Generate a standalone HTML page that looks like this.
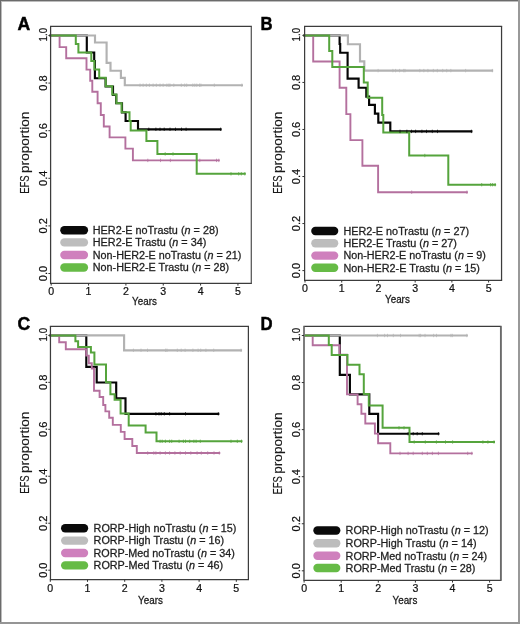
<!DOCTYPE html>
<html><head><meta charset="utf-8"><style>
html,body{margin:0;padding:0;background:#fff;-webkit-font-smoothing:antialiased;width:520px;height:624px;overflow:hidden;font-family:"Liberation Sans", sans-serif;}
</style></head><body>
<svg width="520" height="624" viewBox="0 0 520 624" style="position:absolute;left:0;top:0;will-change:transform;filter:blur(0.3px)"><rect x="0" y="0" width="520" height="624" fill="#fff"/><rect x="0" y="0" width="520" height="1" fill="#6b6b6b"/><rect x="0" y="1" width="518" height="1" fill="#bcbcbc"/><rect x="0" y="0" width="1" height="624" fill="#6b6b6b"/><rect x="1" y="1" width="1" height="621" fill="#bcbcbc"/><rect x="518" y="0" width="2" height="624" fill="#999"/><rect x="0" y="622" width="520" height="2" fill="#959595"/><g font-family='"Liberation Sans", sans-serif'><path d="M 50.5,35.5 H 86.8 V 52.5 H 94.2 V 61 H 94.9 V 78.2 H 105.6 V 86.5 H 113 V 94.8 H 116.2 V 103.2 H 122 V 112.3 H 125.6 V 121 H 138 V 129.3 H 220.6" fill="none" stroke="#050505" stroke-width="2.15" stroke-linejoin="miter" stroke-linecap="square"/><path d="M 50.5,35.5 H 95 V 42.5 H 106.6 V 62.8 H 110.5 V 70.7 H 120.9 V 77.8 H 124.8 V 85.2 H 241.9" fill="none" stroke="#b2b2b2" stroke-width="2.15" stroke-linejoin="miter" stroke-linecap="square"/><path d="M 50.5,35.5 H 59.6 V 47.1 H 66.2 V 58.3 H 86.5 V 69.6 H 90.2 V 80.8 H 92.3 V 91.7 H 97.6 V 103.3 H 100.8 V 115 H 103.8 V 126.5 H 109.6 V 137.4 H 125.4 V 148.6 H 132.9 V 160.4 H 218.8" fill="none" stroke="#b4709e" stroke-width="1.9" stroke-linejoin="miter" stroke-linecap="square"/><path d="M 50.5,35.5 H 75.8 V 44 H 78.4 V 52.4 H 91.3 V 61 H 94.4 V 69.5 H 99.2 V 77.7 H 105.7 V 86.2 H 112.2 V 94.6 H 116.4 V 103.2 H 121.6 V 112.2 H 129.5 V 121 H 130.7 V 130.6 H 146.4 V 141 H 157.4 V 153.9 H 196.7 V 173.8 H 244.8" fill="none" stroke="#55a43c" stroke-width="2.0" stroke-linejoin="miter" stroke-linecap="square"/><path d="M148.8,127.60v3.4M155.9,127.60v3.4M160,127.60v3.4M164.2,127.60v3.4M170,127.60v3.4M175.5,127.60v3.4M181.5,127.60v3.4M186.1,127.60v3.4M220.6,127.60v3.4" fill="none" stroke="#050505" stroke-width="0.9" stroke-opacity="0.8"/><path d="M140,83.50v3.4M143.1,83.50v3.4M146.3,83.50v3.4M149.4,83.50v3.4M153.1,83.50v3.4M156.3,83.50v3.4M160,83.50v3.4M163.1,83.50v3.4M166.9,83.50v3.4M168.8,83.50v3.4M170,83.50v3.4M173.8,83.50v3.4M181.3,83.50v3.4M184.7,83.50v3.4M186.7,83.50v3.4M192.8,83.50v3.4M194.8,83.50v3.4M196.8,83.50v3.4M199.5,83.50v3.4M200.9,83.50v3.4M214.3,83.50v3.4M241.9,83.50v3.4" fill="none" stroke="#b2b2b2" stroke-width="0.9" stroke-opacity="0.8"/><path d="M147.8,158.70v3.4M160.5,158.70v3.4M170.4,158.70v3.4M199.8,158.70v3.4M216.5,158.70v3.4M218.8,158.70v3.4" fill="none" stroke="#b4709e" stroke-width="0.9" stroke-opacity="0.8"/><path d="M165.2,152.20v3.4M173,152.20v3.4M231,172.10v3.4M238.7,172.10v3.4M241.3,172.10v3.4M244.8,172.10v3.4" fill="none" stroke="#55a43c" stroke-width="0.9" stroke-opacity="0.8"/><path d="M50.0,26.35H251.9M50.0,283.35H251.9" stroke="#3c3c3c" stroke-width="1.25" fill="none"/><path d="M50.6,26.35V283.35" stroke="#3c3c3c" stroke-width="1.25" fill="none"/><path d="M251.3,26.35V283.35" stroke="#555" stroke-width="1.25" fill="none"/><path d="M50.6,273.50h-2.2M50.6,225.90h-2.2M50.6,178.30h-2.2M50.6,130.70h-2.2M50.6,83.10h-2.2M50.6,35.50h-2.2M51.20,283.35v2.2M88.55,283.35v2.2M125.90,283.35v2.2M163.25,283.35v2.2M200.60,283.35v2.2M237.95,283.35v2.2" stroke="#333" stroke-width="1"/><text transform="translate(47.3,273.50) rotate(-90)" text-anchor="middle" font-size="11" fill="#111" stroke="#111" stroke-width="0.22">0.0</text><text transform="translate(47.3,225.90) rotate(-90)" text-anchor="middle" font-size="11" fill="#111" stroke="#111" stroke-width="0.22">0.2</text><text transform="translate(47.3,178.30) rotate(-90)" text-anchor="middle" font-size="11" fill="#111" stroke="#111" stroke-width="0.22">0.4</text><text transform="translate(47.3,130.70) rotate(-90)" text-anchor="middle" font-size="11" fill="#111" stroke="#111" stroke-width="0.22">0.6</text><text transform="translate(47.3,83.10) rotate(-90)" text-anchor="middle" font-size="11" fill="#111" stroke="#111" stroke-width="0.22">0.8</text><text transform="translate(47.3,34.70) rotate(-90)" text-anchor="middle" font-size="11" fill="#111" stroke="#111" stroke-width="0.22" textLength="13.6" lengthAdjust="spacingAndGlyphs">1.0</text><text x="51.20" y="295" text-anchor="middle" font-size="10.6" fill="#111" stroke="#111" stroke-width="0.22">0</text><text x="88.55" y="295" text-anchor="middle" font-size="10.6" fill="#111" stroke="#111" stroke-width="0.22">1</text><text x="125.90" y="295" text-anchor="middle" font-size="10.6" fill="#111" stroke="#111" stroke-width="0.22">2</text><text x="163.25" y="295" text-anchor="middle" font-size="10.6" fill="#111" stroke="#111" stroke-width="0.22">3</text><text x="200.60" y="295" text-anchor="middle" font-size="10.6" fill="#111" stroke="#111" stroke-width="0.22">4</text><text x="237.95" y="295" text-anchor="middle" font-size="10.6" fill="#111" stroke="#111" stroke-width="0.22">5</text><text transform="translate(29.2,193.72) rotate(-90)" font-size="12" fill="#1a1a1a" stroke="#1a1a1a" stroke-width="0.15" textLength="18.34" lengthAdjust="spacingAndGlyphs">EFS</text><text transform="translate(29.2,172.98) rotate(-90)" font-size="12" fill="#1a1a1a" stroke="#1a1a1a" stroke-width="0.15" textLength="61.37" lengthAdjust="spacingAndGlyphs">proportion</text><text x="132.1" y="304.8" font-size="11.8" fill="#1a1a1a" stroke="#1a1a1a" stroke-width="0.3" textLength="24.8" lengthAdjust="spacingAndGlyphs">Years</text><text transform="translate(17.40,30.2) scale(1.0,1)" font-size="17.6" font-weight="bold" fill="#000" stroke="#000" stroke-width="0.45">A</text><line x1="64.4" y1="230.2" x2="83.89999999999999" y2="230.2" stroke="#0a0a0a" stroke-width="8.4" stroke-linecap="round"/><text x="92.80" y="234.05" font-size="10.0" fill="#1e1e1e" stroke="#1e1e1e" stroke-width="0.26" textLength="125.75" lengthAdjust="spacingAndGlyphs">HER2-E noTrastu (<tspan font-style="italic">n</tspan> = 28)</text><line x1="64.4" y1="242.4" x2="83.89999999999999" y2="242.4" stroke="#bdbdbd" stroke-width="8.4" stroke-linecap="round"/><text x="92.80" y="246.25" font-size="10.0" fill="#1e1e1e" stroke="#1e1e1e" stroke-width="0.26" textLength="113.55" lengthAdjust="spacingAndGlyphs">HER2-E Trastu (<tspan font-style="italic">n</tspan> = 34)</text><line x1="64.4" y1="255.0" x2="83.89999999999999" y2="255.0" stroke="#cf80bd" stroke-width="8.4" stroke-linecap="round"/><text x="92.80" y="258.85" font-size="10.0" fill="#1e1e1e" stroke="#1e1e1e" stroke-width="0.26" textLength="148.55" lengthAdjust="spacingAndGlyphs">Non-HER2-E noTrastu (<tspan font-style="italic">n</tspan> = 21)</text><line x1="64.4" y1="267.5" x2="83.89999999999999" y2="267.5" stroke="#66bb46" stroke-width="8.4" stroke-linecap="round"/><text x="92.80" y="271.35" font-size="10.0" fill="#1e1e1e" stroke="#1e1e1e" stroke-width="0.26" textLength="136.35" lengthAdjust="spacingAndGlyphs">Non-HER2-E Trastu (<tspan font-style="italic">n</tspan> = 28)</text></g><g font-family='"Liberation Sans", sans-serif'><path d="M 304.3,35.4 H 339.6 V 44 H 340.2 V 52.7 H 347.6 V 78.6 H 358.6 V 87.7 H 366.3 V 96.6 H 369.1 V 104.9 H 374.9 V 113.6 H 378.3 V 122.6 H 390.3 V 131.4 H 471.4" fill="none" stroke="#050505" stroke-width="2.15" stroke-linejoin="miter" stroke-linecap="square"/><path d="M 304.3,35.4 H 347.9 V 44.2 H 360 V 61.3 H 364.3 V 70.6 H 492.1" fill="none" stroke="#b2b2b2" stroke-width="2.15" stroke-linejoin="miter" stroke-linecap="square"/><path d="M 304.3,35.4 H 313.2 V 61.5 H 339.6 V 87.7 H 346.3 V 114.1 H 350.4 V 140.1 H 362.4 V 165.7 H 378.1 V 192.2 H 466.9" fill="none" stroke="#b4709e" stroke-width="1.9" stroke-linejoin="miter" stroke-linecap="square"/><path d="M 304.3,35.4 H 329.2 V 50.9 H 332.3 V 67 H 363.8 V 82.4 H 367.7 V 97.8 H 382.2 V 115 H 383.3 V 132.4 H 409.2 V 155.5 H 448.3 V 184.7 H 495.1" fill="none" stroke="#55a43c" stroke-width="2.0" stroke-linejoin="miter" stroke-linecap="square"/><path d="M400,129.70v3.4M406.9,129.70v3.4M411.5,129.70v3.4M415.6,129.70v3.4M421.9,129.70v3.4M426.5,129.70v3.4M432.3,129.70v3.4M437.5,129.70v3.4M471.4,129.70v3.4" fill="none" stroke="#050505" stroke-width="0.9" stroke-opacity="0.8"/><path d="M378.1,68.90v3.4M392.9,68.90v3.4M395.6,68.90v3.4M399.6,68.90v3.4M403.7,68.90v3.4M405,68.90v3.4M419.8,68.90v3.4M423.8,68.90v3.4M427.9,68.90v3.4M433.3,68.90v3.4M437.3,68.90v3.4M442.7,68.90v3.4M446.7,68.90v3.4M450.8,68.90v3.4M465.6,68.90v3.4M492.3,68.90v3.4" fill="none" stroke="#b2b2b2" stroke-width="0.9" stroke-opacity="0.8"/><path d="M411.7,190.50v3.4M466.9,190.50v3.4" fill="none" stroke="#b4709e" stroke-width="0.9" stroke-opacity="0.8"/><path d="M424.8,153.80v3.4M481.7,183.00v3.4M490.6,183.00v3.4M492.6,183.00v3.4M495.1,183.00v3.4" fill="none" stroke="#55a43c" stroke-width="0.9" stroke-opacity="0.8"/><path d="M304.0,26.35H502.15000000000003M304.0,280.3H502.15000000000003" stroke="#3c3c3c" stroke-width="1.25" fill="none"/><path d="M304.6,26.35V280.3" stroke="#3c3c3c" stroke-width="1.25" fill="none"/><path d="M501.55,26.35V280.3" stroke="#3c3c3c" stroke-width="1.25" fill="none"/><path d="M304.6,270.60h-2.2M304.6,223.56h-2.2M304.6,176.52h-2.2M304.6,129.48h-2.2M304.6,82.44h-2.2M304.6,35.40h-2.2M305.00,280.3v2.2M341.72,280.3v2.2M378.44,280.3v2.2M415.16,280.3v2.2M451.88,280.3v2.2M488.60,280.3v2.2" stroke="#333" stroke-width="1"/><text transform="translate(300.4,270.60) rotate(-90)" text-anchor="middle" font-size="11" fill="#111" stroke="#111" stroke-width="0.22">0.0</text><text transform="translate(300.4,223.56) rotate(-90)" text-anchor="middle" font-size="11" fill="#111" stroke="#111" stroke-width="0.22">0.2</text><text transform="translate(300.4,176.52) rotate(-90)" text-anchor="middle" font-size="11" fill="#111" stroke="#111" stroke-width="0.22">0.4</text><text transform="translate(300.4,129.48) rotate(-90)" text-anchor="middle" font-size="11" fill="#111" stroke="#111" stroke-width="0.22">0.6</text><text transform="translate(300.4,82.44) rotate(-90)" text-anchor="middle" font-size="11" fill="#111" stroke="#111" stroke-width="0.22">0.8</text><text transform="translate(300.4,34.60) rotate(-90)" text-anchor="middle" font-size="11" fill="#111" stroke="#111" stroke-width="0.22" textLength="13.6" lengthAdjust="spacingAndGlyphs">1.0</text><text x="305.00" y="292" text-anchor="middle" font-size="10.6" fill="#111" stroke="#111" stroke-width="0.22">0</text><text x="341.72" y="292" text-anchor="middle" font-size="10.6" fill="#111" stroke="#111" stroke-width="0.22">1</text><text x="378.44" y="292" text-anchor="middle" font-size="10.6" fill="#111" stroke="#111" stroke-width="0.22">2</text><text x="415.16" y="292" text-anchor="middle" font-size="10.6" fill="#111" stroke="#111" stroke-width="0.22">3</text><text x="451.88" y="292" text-anchor="middle" font-size="10.6" fill="#111" stroke="#111" stroke-width="0.22">4</text><text x="488.60" y="292" text-anchor="middle" font-size="10.6" fill="#111" stroke="#111" stroke-width="0.22">5</text><text transform="translate(281.6,193.72) rotate(-90)" font-size="12" fill="#1a1a1a" stroke="#1a1a1a" stroke-width="0.15" textLength="18.34" lengthAdjust="spacingAndGlyphs">EFS</text><text transform="translate(281.6,172.98) rotate(-90)" font-size="12" fill="#1a1a1a" stroke="#1a1a1a" stroke-width="0.15" textLength="61.37" lengthAdjust="spacingAndGlyphs">proportion</text><text x="385" y="302.5" font-size="11.8" fill="#1a1a1a" stroke="#1a1a1a" stroke-width="0.3" textLength="24.8" lengthAdjust="spacingAndGlyphs">Years</text><text transform="translate(260.54,29.9) scale(0.95,1)" font-size="17.6" font-weight="bold" fill="#000" stroke="#000" stroke-width="0.45">B</text><line x1="315.4" y1="231" x2="334.1" y2="231" stroke="#0a0a0a" stroke-width="8.4" stroke-linecap="round"/><text x="343.40" y="234.85" font-size="10.0" fill="#1e1e1e" stroke="#1e1e1e" stroke-width="0.26" textLength="125.65" lengthAdjust="spacingAndGlyphs">HER2-E noTrastu (<tspan font-style="italic">n</tspan> = 27)</text><line x1="315.4" y1="243.2" x2="334.1" y2="243.2" stroke="#bdbdbd" stroke-width="8.4" stroke-linecap="round"/><text x="343.40" y="247.05" font-size="10.0" fill="#1e1e1e" stroke="#1e1e1e" stroke-width="0.26" textLength="113.55" lengthAdjust="spacingAndGlyphs">HER2-E Trastu (<tspan font-style="italic">n</tspan> = 27)</text><line x1="315.4" y1="255.6" x2="334.1" y2="255.6" stroke="#cf80bd" stroke-width="8.4" stroke-linecap="round"/><text x="343.40" y="259.45" font-size="10.0" fill="#1e1e1e" stroke="#1e1e1e" stroke-width="0.26" textLength="142.35" lengthAdjust="spacingAndGlyphs">Non-HER2-E noTrastu (<tspan font-style="italic">n</tspan> = 9)</text><line x1="315.4" y1="267.8" x2="334.1" y2="267.8" stroke="#66bb46" stroke-width="8.4" stroke-linecap="round"/><text x="343.40" y="271.65" font-size="10.0" fill="#1e1e1e" stroke="#1e1e1e" stroke-width="0.26" textLength="136.55" lengthAdjust="spacingAndGlyphs">Non-HER2-E Trastu (<tspan font-style="italic">n</tspan> = 15)</text></g><g font-family='"Liberation Sans", sans-serif'><path d="M 50.5,335.4 H 86.3 V 366.8 H 96.7 V 382.5 H 116.2 V 398.2 H 125.5 V 413.8 H 218.3" fill="none" stroke="#050505" stroke-width="2.15" stroke-linejoin="miter" stroke-linecap="square"/><path d="M 50.5,335.4 H 124.1 V 350.3 H 241" fill="none" stroke="#b2b2b2" stroke-width="2.15" stroke-linejoin="miter" stroke-linecap="square"/><path d="M 50.5,335.4 H 59.2 V 342.3 H 65.8 V 349.2 H 86.2 V 355.6 H 88.8 V 363.2 H 91.8 V 368.5 H 94 V 390.8 H 99.6 V 397 H 103.2 V 405 H 105.4 V 411.4 H 109.2 V 417.8 H 112.8 V 424.9 H 120.8 V 431.9 H 124.6 V 439 H 132.3 V 446 H 136.8 V 453 H 219.3" fill="none" stroke="#b4709e" stroke-width="1.9" stroke-linejoin="miter" stroke-linecap="square"/><path d="M 50.5,335.4 H 75.4 V 341.2 H 78.1 V 347.1 H 90.9 V 352.6 H 94.4 V 364.4 H 106 V 382.3 H 110.4 V 394.2 H 114.6 V 399.8 H 120.6 V 413.5 H 128.7 V 425.5 H 145.6 V 432.5 H 156.5 V 441.3 H 241.5" fill="none" stroke="#55a43c" stroke-width="2.0" stroke-linejoin="miter" stroke-linecap="square"/><path d="M155.9,412.10v3.4M159,412.10v3.4M161.2,412.10v3.4M164.3,412.10v3.4M169.6,412.10v3.4M185.5,412.10v3.4M218.3,412.10v3.4" fill="none" stroke="#050505" stroke-width="0.9" stroke-opacity="0.8"/><path d="M133.4,348.60v3.4M141,348.60v3.4M147.5,348.60v3.4M165.6,348.60v3.4M167,348.60v3.4M177.3,348.60v3.4M181.2,348.60v3.4M185.1,348.60v3.4M192.9,348.60v3.4M198.1,348.60v3.4M200.7,348.60v3.4M205.9,348.60v3.4M213.7,348.60v3.4M241,348.60v3.4" fill="none" stroke="#b2b2b2" stroke-width="0.9" stroke-opacity="0.8"/><path d="M147.7,451.30v3.4M153.8,451.30v3.4M155.9,451.30v3.4M160.1,451.30v3.4M165.4,451.30v3.4M169.6,451.30v3.4M174.9,451.30v3.4M180.2,451.30v3.4M185.5,451.30v3.4M190.8,451.30v3.4M197.1,451.30v3.4M201.3,451.30v3.4M207.7,451.30v3.4M214,451.30v3.4M219.3,451.30v3.4" fill="none" stroke="#b4709e" stroke-width="0.9" stroke-opacity="0.8"/><path d="M160.1,439.60v3.4M162.2,439.60v3.4M165.4,439.60v3.4M169.6,439.60v3.4M171.7,439.60v3.4M179.1,439.60v3.4M183.4,439.60v3.4M185.5,439.60v3.4M189.7,439.60v3.4M193.9,439.60v3.4M196.1,439.60v3.4M200.3,439.60v3.4M231,439.60v3.4M237.3,439.60v3.4M241.5,439.60v3.4" fill="none" stroke="#55a43c" stroke-width="0.9" stroke-opacity="0.8"/><path d="M49.85,326.4H249.0M49.85,579.6H249.0" stroke="#3c3c3c" stroke-width="1.25" fill="none"/><path d="M50.45,326.4V579.6" stroke="#3c3c3c" stroke-width="1.25" fill="none"/><path d="M248.4,326.4V579.6" stroke="#3c3c3c" stroke-width="1.25" fill="none"/><path d="M50.45,570.20h-2.2M50.45,523.24h-2.2M50.45,476.28h-2.2M50.45,429.32h-2.2M50.45,382.36h-2.2M50.45,335.40h-2.2M50.30,579.6v2.2M87.50,579.6v2.2M124.70,579.6v2.2M161.90,579.6v2.2M199.10,579.6v2.2M236.30,579.6v2.2" stroke="#333" stroke-width="1"/><text transform="translate(47.1,570.20) rotate(-90)" text-anchor="middle" font-size="11" fill="#111" stroke="#111" stroke-width="0.22">0.0</text><text transform="translate(47.1,523.24) rotate(-90)" text-anchor="middle" font-size="11" fill="#111" stroke="#111" stroke-width="0.22">0.2</text><text transform="translate(47.1,476.28) rotate(-90)" text-anchor="middle" font-size="11" fill="#111" stroke="#111" stroke-width="0.22">0.4</text><text transform="translate(47.1,429.32) rotate(-90)" text-anchor="middle" font-size="11" fill="#111" stroke="#111" stroke-width="0.22">0.6</text><text transform="translate(47.1,382.36) rotate(-90)" text-anchor="middle" font-size="11" fill="#111" stroke="#111" stroke-width="0.22">0.8</text><text transform="translate(47.1,334.60) rotate(-90)" text-anchor="middle" font-size="11" fill="#111" stroke="#111" stroke-width="0.22" textLength="13.6" lengthAdjust="spacingAndGlyphs">1.0</text><text x="50.30" y="591.8" text-anchor="middle" font-size="10.6" fill="#111" stroke="#111" stroke-width="0.22">0</text><text x="87.50" y="591.8" text-anchor="middle" font-size="10.6" fill="#111" stroke="#111" stroke-width="0.22">1</text><text x="124.70" y="591.8" text-anchor="middle" font-size="10.6" fill="#111" stroke="#111" stroke-width="0.22">2</text><text x="161.90" y="591.8" text-anchor="middle" font-size="10.6" fill="#111" stroke="#111" stroke-width="0.22">3</text><text x="199.10" y="591.8" text-anchor="middle" font-size="10.6" fill="#111" stroke="#111" stroke-width="0.22">4</text><text x="236.30" y="591.8" text-anchor="middle" font-size="10.6" fill="#111" stroke="#111" stroke-width="0.22">5</text><text transform="translate(28.7,493.72) rotate(-90)" font-size="12" fill="#1a1a1a" stroke="#1a1a1a" stroke-width="0.15" textLength="18.34" lengthAdjust="spacingAndGlyphs">EFS</text><text transform="translate(28.7,472.98) rotate(-90)" font-size="12" fill="#1a1a1a" stroke="#1a1a1a" stroke-width="0.15" textLength="61.37" lengthAdjust="spacingAndGlyphs">proportion</text><text x="138.1" y="603.8" font-size="11.8" fill="#1a1a1a" stroke="#1a1a1a" stroke-width="0.3" textLength="24.8" lengthAdjust="spacingAndGlyphs">Years</text><text transform="translate(17.40,330.2) scale(1.0,1)" font-size="17.6" font-weight="bold" fill="#000" stroke="#000" stroke-width="0.45">C</text><line x1="65.2" y1="528.2" x2="84.0" y2="528.2" stroke="#0a0a0a" stroke-width="8.4" stroke-linecap="round"/><text x="93.60" y="532.05" font-size="10.0" fill="#1e1e1e" stroke="#1e1e1e" stroke-width="0.26" textLength="142.75" lengthAdjust="spacingAndGlyphs">RORP-High noTrastu (<tspan font-style="italic">n</tspan> = 15)</text><line x1="65.2" y1="540.6" x2="84.0" y2="540.6" stroke="#bdbdbd" stroke-width="8.4" stroke-linecap="round"/><text x="93.60" y="544.45" font-size="10.0" fill="#1e1e1e" stroke="#1e1e1e" stroke-width="0.26" textLength="130.55" lengthAdjust="spacingAndGlyphs">RORP-High Trastu (<tspan font-style="italic">n</tspan> = 16)</text><line x1="65.2" y1="553.0" x2="84.0" y2="553.0" stroke="#cf80bd" stroke-width="8.4" stroke-linecap="round"/><text x="93.60" y="556.85" font-size="10.0" fill="#1e1e1e" stroke="#1e1e1e" stroke-width="0.26" textLength="141.15" lengthAdjust="spacingAndGlyphs">RORP-Med noTrastu (<tspan font-style="italic">n</tspan> = 34)</text><line x1="65.2" y1="565.4" x2="84.0" y2="565.4" stroke="#66bb46" stroke-width="8.4" stroke-linecap="round"/><text x="93.60" y="569.25" font-size="10.0" fill="#1e1e1e" stroke="#1e1e1e" stroke-width="0.26" textLength="129.45" lengthAdjust="spacingAndGlyphs">RORP-Med Trastu (<tspan font-style="italic">n</tspan> = 46)</text></g><g font-family='"Liberation Sans", sans-serif'><path d="M 304.5,335.5 H 339.8 V 374.8 H 349.9 V 394.3 H 369.3 V 413.8 H 378.1 V 433.7 H 438.4" fill="none" stroke="#050505" stroke-width="2.15" stroke-linejoin="miter" stroke-linecap="square"/><path d="M 304.5,335.5 H 466.8" fill="none" stroke="#b2b2b2" stroke-width="2.15" stroke-linejoin="miter" stroke-linecap="square"/><path d="M 304.5,335.5 H 312.7 V 345.3 H 339.6 V 354.8 H 347 V 394.4 H 357.6 V 404.2 H 361.4 V 413.8 H 365.3 V 423.5 H 374.9 V 433.6 H 378.1 V 443.3 H 390.3 V 453.4 H 471.8" fill="none" stroke="#b4709e" stroke-width="1.9" stroke-linejoin="miter" stroke-linecap="square"/><path d="M 304.5,335.5 H 328.8 V 345 H 331.7 V 355 H 347.5 V 364.7 H 359.5 V 374.3 H 363.8 V 394 H 368.8 V 405.5 H 382.6 V 427.8 H 409.5 V 442 H 494" fill="none" stroke="#55a43c" stroke-width="2.0" stroke-linejoin="miter" stroke-linecap="square"/><path d="M408.1,432.00v3.4M413.2,432.00v3.4M417.2,432.00v3.4M422.3,432.00v3.4M438.4,432.00v3.4" fill="none" stroke="#050505" stroke-width="0.9" stroke-opacity="0.8"/><path d="M377.4,333.80v3.4M384.6,333.80v3.4M387.5,333.80v3.4M393.3,333.80v3.4M400.5,333.80v3.4M419.2,333.80v3.4M420.6,333.80v3.4M425,333.80v3.4M433.6,333.80v3.4M436.5,333.80v3.4M450.9,333.80v3.4M452.3,333.80v3.4M466.8,333.80v3.4" fill="none" stroke="#b2b2b2" stroke-width="0.9" stroke-opacity="0.8"/><path d="M400,451.70v3.4M408.1,451.70v3.4M413.2,451.70v3.4M422.3,451.70v3.4M427.3,451.70v3.4M432.4,451.70v3.4M438.4,451.70v3.4M467.7,451.70v3.4M471.8,451.70v3.4" fill="none" stroke="#b4709e" stroke-width="0.9" stroke-opacity="0.8"/><path d="M399,426.10v3.4M404,426.10v3.4M414.2,440.30v3.4M425.3,440.30v3.4M436.4,440.30v3.4M445.5,440.30v3.4M452.6,440.30v3.4M482.9,440.30v3.4M487.9,440.30v3.4M494,440.30v3.4" fill="none" stroke="#55a43c" stroke-width="0.9" stroke-opacity="0.8"/><path d="M303.4,326.4H501.5M303.4,580.35H501.5" stroke="#3c3c3c" stroke-width="1.25" fill="none"/><path d="M304.0,326.4V580.35" stroke="#777" stroke-width="1.9" fill="none"/><path d="M500.9,326.4V580.35" stroke="#6a6a6a" stroke-width="1.9" fill="none"/><path d="M304.0,570.80h-2.2M304.0,523.74h-2.2M304.0,476.68h-2.2M304.0,429.62h-2.2M304.0,382.56h-2.2M304.0,335.50h-2.2M304.10,580.35v2.2M341.20,580.35v2.2M378.30,580.35v2.2M415.40,580.35v2.2M452.50,580.35v2.2M489.60,580.35v2.2" stroke="#333" stroke-width="1"/><text transform="translate(299.9,570.80) rotate(-90)" text-anchor="middle" font-size="11" fill="#111" stroke="#111" stroke-width="0.22">0.0</text><text transform="translate(299.9,523.74) rotate(-90)" text-anchor="middle" font-size="11" fill="#111" stroke="#111" stroke-width="0.22">0.2</text><text transform="translate(299.9,476.68) rotate(-90)" text-anchor="middle" font-size="11" fill="#111" stroke="#111" stroke-width="0.22">0.4</text><text transform="translate(299.9,429.62) rotate(-90)" text-anchor="middle" font-size="11" fill="#111" stroke="#111" stroke-width="0.22">0.6</text><text transform="translate(299.9,382.56) rotate(-90)" text-anchor="middle" font-size="11" fill="#111" stroke="#111" stroke-width="0.22">0.8</text><text transform="translate(299.9,334.70) rotate(-90)" text-anchor="middle" font-size="11" fill="#111" stroke="#111" stroke-width="0.22" textLength="13.6" lengthAdjust="spacingAndGlyphs">1.0</text><text x="304.10" y="592" text-anchor="middle" font-size="10.6" fill="#111" stroke="#111" stroke-width="0.22">0</text><text x="341.20" y="592" text-anchor="middle" font-size="10.6" fill="#111" stroke="#111" stroke-width="0.22">1</text><text x="378.30" y="592" text-anchor="middle" font-size="10.6" fill="#111" stroke="#111" stroke-width="0.22">2</text><text x="415.40" y="592" text-anchor="middle" font-size="10.6" fill="#111" stroke="#111" stroke-width="0.22">3</text><text x="452.50" y="592" text-anchor="middle" font-size="10.6" fill="#111" stroke="#111" stroke-width="0.22">4</text><text x="489.60" y="592" text-anchor="middle" font-size="10.6" fill="#111" stroke="#111" stroke-width="0.22">5</text><text transform="translate(282.4,494.52) rotate(-90)" font-size="12" fill="#1a1a1a" stroke="#1a1a1a" stroke-width="0.15" textLength="18.34" lengthAdjust="spacingAndGlyphs">EFS</text><text transform="translate(282.4,473.78) rotate(-90)" font-size="12" fill="#1a1a1a" stroke="#1a1a1a" stroke-width="0.15" textLength="61.37" lengthAdjust="spacingAndGlyphs">proportion</text><text x="392.5" y="603.8" font-size="11.8" fill="#1a1a1a" stroke="#1a1a1a" stroke-width="0.3" textLength="24.8" lengthAdjust="spacingAndGlyphs">Years</text><text transform="translate(260.54,330) scale(0.95,1)" font-size="17.6" font-weight="bold" fill="#000" stroke="#000" stroke-width="0.45">D</text><line x1="317.5" y1="530.5" x2="336.2" y2="530.5" stroke="#0a0a0a" stroke-width="8.4" stroke-linecap="round"/><text x="345.60" y="534.35" font-size="10.0" fill="#1e1e1e" stroke="#1e1e1e" stroke-width="0.26" textLength="143.05" lengthAdjust="spacingAndGlyphs">RORP-High noTrastu (<tspan font-style="italic">n</tspan> = 12)</text><line x1="317.5" y1="543.3" x2="336.2" y2="543.3" stroke="#bdbdbd" stroke-width="8.4" stroke-linecap="round"/><text x="345.60" y="547.15" font-size="10.0" fill="#1e1e1e" stroke="#1e1e1e" stroke-width="0.26" textLength="130.95" lengthAdjust="spacingAndGlyphs">RORP-High Trastu (<tspan font-style="italic">n</tspan> = 14)</text><line x1="317.5" y1="555.8" x2="336.2" y2="555.8" stroke="#cf80bd" stroke-width="8.4" stroke-linecap="round"/><text x="345.60" y="559.65" font-size="10.0" fill="#1e1e1e" stroke="#1e1e1e" stroke-width="0.26" textLength="141.45" lengthAdjust="spacingAndGlyphs">RORP-Med noTrastu (<tspan font-style="italic">n</tspan> = 24)</text><line x1="317.5" y1="568" x2="336.2" y2="568" stroke="#66bb46" stroke-width="8.4" stroke-linecap="round"/><text x="345.60" y="571.85" font-size="10.0" fill="#1e1e1e" stroke="#1e1e1e" stroke-width="0.26" textLength="129.85" lengthAdjust="spacingAndGlyphs">RORP-Med Trastu (<tspan font-style="italic">n</tspan> = 28)</text></g></svg>
</body></html>
